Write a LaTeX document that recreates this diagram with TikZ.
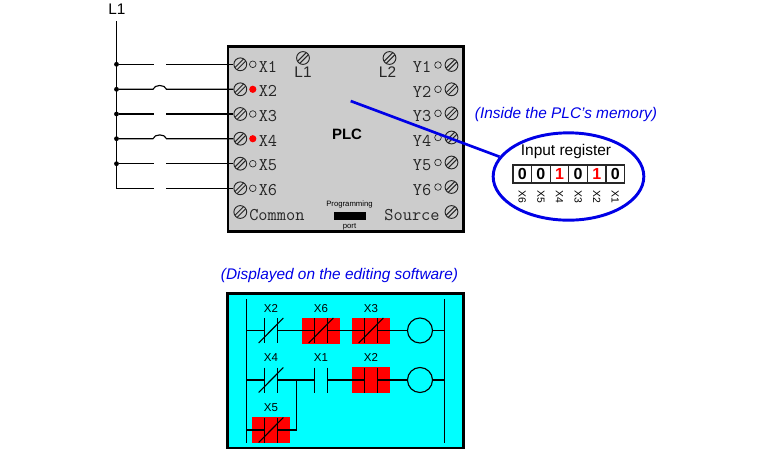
\documentclass[tikz,border=0pt]{standalone}
\usepackage{fontspec}
\setmainfont{Liberation Sans}
\usetikzlibrary{positioning,shapes.geometric}

\definecolor{plcgray}{gray}{0.8}
\definecolor{editcyan}{RGB}{0,255,255}
\definecolor{noteblue}{RGB}{0,0,230}
\definecolor{inkgray}{gray}{0.15}

\tikzset{
    wire/.style={line width=0.85pt},
    junction/.style={circle, fill=black, inner sep=0pt, minimum size=3.6pt},
    terminal/.style={circle, draw=inkgray, line width=0.7pt, inner sep=0pt, minimum size=9.6pt,
        path picture={
            \draw[inkgray, line width=0.7pt]
                ([xshift=-1.6pt]path picture bounding box.south west) -- ([xshift=-1.6pt]path picture bounding box.north east)
                ([xshift=1.6pt]path picture bounding box.south west) -- ([xshift=1.6pt]path picture bounding box.north east);
        }},
    lampoff/.style={circle, draw=inkgray, line width=0.5pt, inner sep=0pt, minimum size=5pt},
    lampon/.style={circle, fill=red, inner sep=0pt, minimum size=5.4pt},
    ioname/.style={font=\ttfamily\fontsize{13.4}{13.4}\selectfont, text=inkgray, inner sep=0pt},
    powername/.style={font=\fontsize{11.5}{11.5}\selectfont, text=inkgray, inner sep=0pt},
    smallname/.style={font=\fontsize{5.8}{6}\selectfont, inner sep=0pt},
    note/.style={font=\itshape\fontsize{11.55}{11.55}\selectfont, text=noteblue, inner sep=0pt},
    regcell/.style={rectangle, draw=inkgray, line width=0.8pt, inner sep=0pt, outer sep=0pt,
        minimum width=13.95pt, minimum height=13.5pt, font=\bfseries\fontsize{12}{12}\selectfont},
    regname/.style={rotate=-90, inner sep=0pt, font=\fontsize{7.8}{8}\selectfont},
    contact/.style={rectangle, inner sep=0pt, outer sep=0pt, minimum width=9.5pt, minimum height=18.75pt,
        append after command={
            (\tikzlastnode.north west) edge[wire] (\tikzlastnode.south west)
            (\tikzlastnode.north east) edge[wire] (\tikzlastnode.south east)
        }},
    closedcontact/.style={contact,
        append after command={
            ([xshift=-4.5pt]\tikzlastnode.south west) edge[wire] ([xshift=4.5pt]\tikzlastnode.north east)
        }},
    forcedbox/.style={rectangle, fill=red, draw=none, inner sep=0pt, minimum width=28.5pt, minimum height=19.5pt},
    coil/.style={circle, draw, line width=0.85pt, inner sep=0pt, minimum size=18.75pt},
    tag/.style={inner sep=0pt, font=\fontsize{8.6}{8.6}\selectfont},
}

\begin{document}
\begin{tikzpicture}[x=0.75pt, y=-0.75pt]
    \useasboundingbox (0,0) rectangle (768,455);

    % PLC body
    \node[rectangle, draw=black, fill=plcgray, line width=2pt, inner sep=0pt, outer sep=0pt,
        minimum width=176.5pt, minimum height=139pt] (plc) at (345.7,139) {};
    \node[font=\bfseries\fontsize{11.25}{11.25}\selectfont, inner sep=0pt] (plcname) at (347,134) {PLC};

    % bus and input wiring
    \node[powername, text=black] (lone) at (117,9.5) {L1};
    \coordinate (bustop) at (116.5,21);
    \coordinate (buscorner) at (116.5,188.3);
    \node[junction] (j1) at (116.5,64.3) {};
    \node[junction] (j2) at (116.5,89.3) {};
    \node[junction] (j3) at (116.5,114) {};
    \node[junction] (j4) at (116.5,138.7) {};
    \node[junction] (j5) at (116.5,163.7) {};

    \node[terminal] (tx1) at (240.3,64.3) {};
    \node[terminal] (tx2) at (240.3,89.3) {};
    \node[terminal] (tx3) at (240.3,114) {};
    \node[terminal] (tx4) at (240.3,138.7) {};
    \node[terminal] (tx5) at (240.3,163.7) {};
    \node[terminal] (tx6) at (240.3,188.3) {};
    \node[terminal] (tcom) at (240.3,212) {};

    \coordinate (a1) at (154,64.3);
    \coordinate (b1) at (166,64.3);
    \coordinate (a2) at (153,89.3);
    \coordinate (b2) at (166.5,89.3);
    \coordinate (a3) at (154,114);
    \coordinate (b3) at (166,114);
    \coordinate (a4) at (153,138.7);
    \coordinate (b4) at (166.5,138.7);
    \coordinate (a5) at (154,163.7);
    \coordinate (b5) at (166,163.7);
    \coordinate (a6) at (154,188.3);
    \coordinate (b6) at (166,188.3);

    \draw[wire] (bustop) -- (buscorner) -- (a6);
    \draw[wire] (b6) -- (tx6);
    \draw[wire] (j1) -- (a1);
    \draw[wire] (b1) -- (tx1);
    \draw[wire] (j2) -- (a2) to[out=75, in=105] (b2) -- (tx2);
    \draw[wire] (j3) -- (a3);
    \draw[wire] (b3) -- (tx3);
    \draw[wire] (j4) -- (a4) to[out=75, in=105] (b4) -- (tx4);
    \draw[wire] (j5) -- (a5);
    \draw[wire] (b5) -- (tx5);

    % input side
    \node[lampoff] (lx1) at (252.8,64.3) {};
    \node[lampon]  (lx2) at (252.8,89.3) {};
    \node[lampoff] (lx3) at (252.8,114) {};
    \node[lampon]  (lx4) at (252.8,138.7) {};
    \node[lampoff] (lx5) at (252.8,163.7) {};
    \node[lampoff] (lx6) at (252.8,188.3) {};
    \node[ioname, anchor=west] (nx1) at (258.5,66.5) {X1};
    \node[ioname, anchor=west] (nx2) at (258.5,91) {X2};
    \node[ioname, anchor=west] (nx3) at (258.5,116) {X3};
    \node[ioname, anchor=west] (nx4) at (258.5,141) {X4};
    \node[ioname, anchor=west] (nx5) at (258.5,165.5) {X5};
    \node[ioname, anchor=west] (nx6) at (258.5,190) {X6};
    \node[ioname, anchor=west] (ncom) at (249,215) {Common};

    % power terminals
    \node[terminal] (tl1) at (303,58) {};
    \node[terminal] (tl2) at (389.5,58) {};
    \node[powername] (nl1) at (303,72) {L1};
    \node[powername] (nl2) at (387.5,72) {L2};

    % output side
    \node[terminal] (ty1) at (451.5,65) {};
    \node[terminal] (ty2) at (451.5,89.3) {};
    \node[terminal] (ty3) at (451.5,113.3) {};
    \node[terminal] (ty4) at (451.5,137.5) {};
    \node[terminal] (ty5) at (451.5,162.5) {};
    \node[terminal] (ty6) at (451.5,187) {};
    \node[terminal] (tsrc) at (451.5,212) {};
    \node[lampoff] (ly1) at (438,65) {};
    \node[lampoff] (ly2) at (438,89.3) {};
    \node[lampoff] (ly3) at (438,113.3) {};
    \node[lampoff] (ly4) at (438,137.5) {};
    \node[lampoff] (ly5) at (438,162.5) {};
    \node[lampoff] (ly6) at (438,187) {};
    \node[ioname] (ny1) at (422,66.7) {Y1};
    \node[ioname] (ny2) at (422,91.5) {Y2};
    \node[ioname] (ny3) at (422,116.5) {Y3};
    \node[ioname] (ny4) at (422,140.7) {Y4};
    \node[ioname] (ny5) at (422,165) {Y5};
    \node[ioname] (ny6) at (422,190.5) {Y6};
    \node[ioname] (nsrc) at (412,215) {Source};

    % programming port
    \node[rectangle, fill=black, inner sep=0pt, minimum width=24pt, minimum height=5.4pt] (port) at (349.5,216) {};
    \node[smallname, above=2.6pt of port] (progname) {Programming};
    \node[smallname, below=2.2pt of port] (portname) {port};

    % memory bubble
    \node[note] (memnote) at (566,115) {(Inside the PLC’s memory)};
    \node[ellipse, draw=noteblue, line width=2.2pt, inner sep=0pt, minimum width=113pt, minimum height=65.5pt] (bubble) at (568.5,176.5) {};
    \coordinate (ptr) at (350.7,101);
    \draw[noteblue, line width=2pt] (ptr) -- (bubble.164);
    \node[inner sep=0pt, font=\fontsize{11.6}{11.6}\selectfont] (regtitle) at (566,151) {Input register};

    \node[regcell] (r6) at (522.3,174) {0};
    \node[regcell, right=0pt of r6] (r5) {0};
    \node[regcell, right=0pt of r5, text=red] (r4) {1};
    \node[regcell, right=0pt of r4] (r3) {0};
    \node[regcell, right=0pt of r3, text=red] (r2) {1};
    \node[regcell, right=0pt of r2] (r1) {0};
    \node[regname] (n6) at ([yshift=-10.5pt]r6.south) {X6};
    \node[regname] (n5) at ([yshift=-10.5pt]r5.south) {X5};
    \node[regname] (n4) at ([yshift=-10.5pt]r4.south) {X4};
    \node[regname] (n3) at ([yshift=-10.5pt]r3.south) {X3};
    \node[regname] (n2) at ([yshift=-10.5pt]r2.south) {X2};
    \node[regname] (n1) at ([yshift=-10.5pt]r1.south) {X1};

    % editing software
    \node[note] (editnote) at (339.5,276) {(Displayed on the editing software)};
    \node[rectangle, draw=black, fill=editcyan, line width=2pt, inner sep=0pt, outer sep=0pt,
        minimum width=177pt, minimum height=116pt] (screen) at (345.5,370.5) {};

    \coordinate (railatop) at (246.5,299);
    \coordinate (railabot) at (246.5,443);
    \coordinate (railbtop) at (444.5,299);
    \coordinate (railbbot) at (444.5,443);
    \coordinate (la) at (246.5,330.5);
    \coordinate (lb) at (246.5,380);
    \coordinate (lc) at (246.5,430);
    \coordinate (ra) at (444.5,330.5);
    \coordinate (rb) at (444.5,380);
    \coordinate (branch) at (296.7,380);

    \node[forcedbox] (bx6) at (321,330.5) {};
    \node[forcedbox] (bx3) at (371,330.5) {};
    \node[forcedbox] (bx2) at (371,380) {};
    \node[forcedbox] (bx5) at (271,430) {};

    \node[closedcontact] (cx2a) at (271,330.5) {};
    \node[closedcontact] (cx6) at (321,330.5) {};
    \node[closedcontact] (cx3) at (371,330.5) {};
    \node[coil] (coila) at (420,330.5) {};
    \node[closedcontact] (cx4) at (271,380) {};
    \node[contact] (cx1) at (321,380) {};
    \node[contact] (cx2b) at (371,380) {};
    \node[coil] (coilb) at (420,380) {};
    \node[closedcontact] (cx5) at (271,430) {};

    \draw[wire] (railatop) -- (railabot);
    \draw[wire] (railbtop) -- (railbbot);
    \draw[wire] (la) -- (cx2a.west);
    \draw[wire] (cx2a.east) -- (cx6.west);
    \draw[wire] (cx6.east) -- (cx3.west);
    \draw[wire] (cx3.east) -- (coila);
    \draw[wire] (coila) -- (ra);
    \draw[wire] (lb) -- (cx4.west);
    \draw[wire] (cx4.east) -- (cx1.west);
    \draw[wire] (cx1.east) -- (cx2b.west);
    \draw[wire] (cx2b.east) -- (coilb);
    \draw[wire] (coilb) -- (rb);
    \draw[wire] (lc) -- (cx5.west);
    \draw[wire] (cx5.east) -| (branch);

    \node[tag, above=4.2pt of cx2a] (tagx2a) {X2};
    \node[tag, above=4.2pt of cx6] (tagx6) {X6};
    \node[tag, above=4.2pt of cx3] (tagx3) {X3};
    \node[tag, above=4.2pt of cx4] (tagx4) {X4};
    \node[tag, above=4.2pt of cx1] (tagx1) {X1};
    \node[tag, above=4.2pt of cx2b] (tagx2b) {X2};
    \node[tag, above=4.2pt of cx5] (tagx5) {X5};
\end{tikzpicture}
\end{document}
